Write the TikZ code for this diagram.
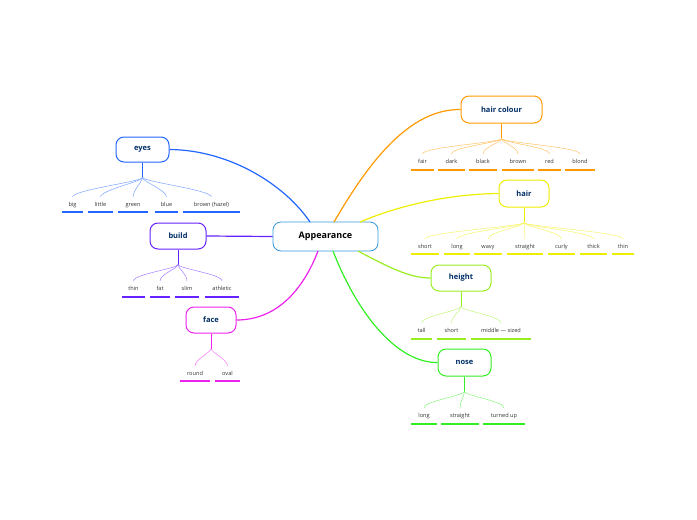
\documentclass[tikz,border=0pt]{standalone}
\usepackage{fontspec}
\setmainfont{Open Sans}
\usetikzlibrary{calc}
\begin{document}
\begin{tikzpicture}[x=1pt,y=-1pt,
  hub/.style={draw=#1,line width=1pt,rounded corners=8pt,fill=white,font=\bfseries\fontsize{7.5}{9}\selectfont,text=black!70!green!60!blue,inner sep=0pt},
  kid/.style={font=\fontsize{5.6}{7}\selectfont,text=black!80,inner sep=0pt,anchor=base},
  uline/.style={draw=#1,line width=1.6pt},
  main/.style={draw=#1,line width=1.2pt},
  sub/.style={draw=#1!60,line width=0.5pt}]
\useasboundingbox (0,0) rectangle (697,520);
\definecolor{cA}{HTML}{3399DD}
\definecolor{cEye}{HTML}{2266FF}
\definecolor{cBuild}{HTML}{6622FF}
\definecolor{cFace}{HTML}{EE22EE}
\definecolor{cHC}{HTML}{FF9900}
\definecolor{cHair}{HTML}{EEEE00}
\definecolor{cHeight}{HTML}{99EE22}
\definecolor{cNose}{HTML}{33EE22}

\node[draw=cA,line width=0.8pt,rounded corners=8pt,fill=white,font=\bfseries\fontsize{9}{11}\selectfont,minimum width=105pt,minimum height=29pt,inner sep=0pt] (A) at (325.5,236.5) {Appearance};
\node[hub=cEye,minimum width=53pt,minimum height=25pt] (eyes) at (142.5,149.5) {eyes};
\node[hub=cBuild,minimum width=56pt,minimum height=26pt] (build) at (178,236) {build};
\node[hub=cFace,minimum width=50pt,minimum height=26pt] (face) at (211,320) {face};
\node[hub=cHC,minimum width=81pt,minimum height=27pt] (hc) at (501.5,109.5) {hair colour};
\node[hub=cHair,minimum width=50pt,minimum height=27pt] (hair) at (524,193.5) {hair};
\node[hub=cHeight,minimum width=60pt,minimum height=26pt] (height) at (461,278) {height};
\node[hub=cNose,minimum width=53pt,minimum height=27pt] (nose) at (464.5,362.5) {nose};

\coordinate (aE) at (310,222); \coordinate (aHC) at (334,222); \coordinate (aH) at (360,222);
\coordinate (aF) at (318,251); \coordinate (aHt) at (358,251); \coordinate (aN) at (333,251);
\draw[main=cEye] (eyes.east) .. controls (230,150) and (285,185) .. (aE);
\draw[main=cBuild] (build.east) -- (A.west);
\draw[main=cFace] (face.east) .. controls (280,320) and (305,285) .. (aF);
\draw[main=cHC] (aHC) .. controls (370,160) and (410,109) .. (hc.west);
\draw[main=cHair] (aH) .. controls (400,205) and (450,194) .. (hair.west);
\draw[main=cHeight] (aHt) .. controls (390,268) and (410,278) .. (height.west);
\draw[main=cNose] (aN) .. controls (360,320) and (400,363) .. (nose.west);

\newcommand{\grp}[6]{%
  \coordinate (#1j) at ($(#2.south)+(0,15)$);
  \draw[main=#3,line width=0.9pt] (#2.south) -- (#1j);
  \foreach \cx/\w/\lbl [count=\i] in {#6} {
    \node[kid] (#1k\i) at (\cx,#4) {\lbl};
    \draw[sub=#3] (#1j) .. controls ($(#1j)+(0,4)$) and (\cx,#4-16) .. (\cx,#4-9);
    \draw[uline=#3] (\cx-\w/2,#5) -- (\cx+\w/2,#5);
  }}
\grp{e}{eyes}{cEye}{206}{212}{72.5/21/big,100.5/25/little,133/30/green,166.5/23/blue,211.5/57/brown (hazel)}
\grp{b}{build}{cBuild}{290}{297}{133.5/23/thin,160/20/fat,187/24/slim,222/34/athletic}
\grp{f}{face}{cFace}{375}{381}{195/30/round,227.5/25/oval}
\grp{hc}{hc}{cHC}{163}{170}{422.5/23/fair,451.5/27/dark,483/28/black,518/32/brown,549.5/23/red,580/30/blond}
\grp{h}{hair}{cHair}{248}{254}{425/28/short,457/26/long,488/28/wavy,525/36/straight,561.5/27/curly,593.5/27/thick,623/22/thin}
\grp{ht}{height}{cHeight}{332}{339}{421.5/21/tall,451.5/29/short,501/60/middle — sized}
\grp{n}{nose}{cNose}{417}{424}{424/26/long,460/38/straight,504/42/turned up}
\end{tikzpicture}
\end{document}
